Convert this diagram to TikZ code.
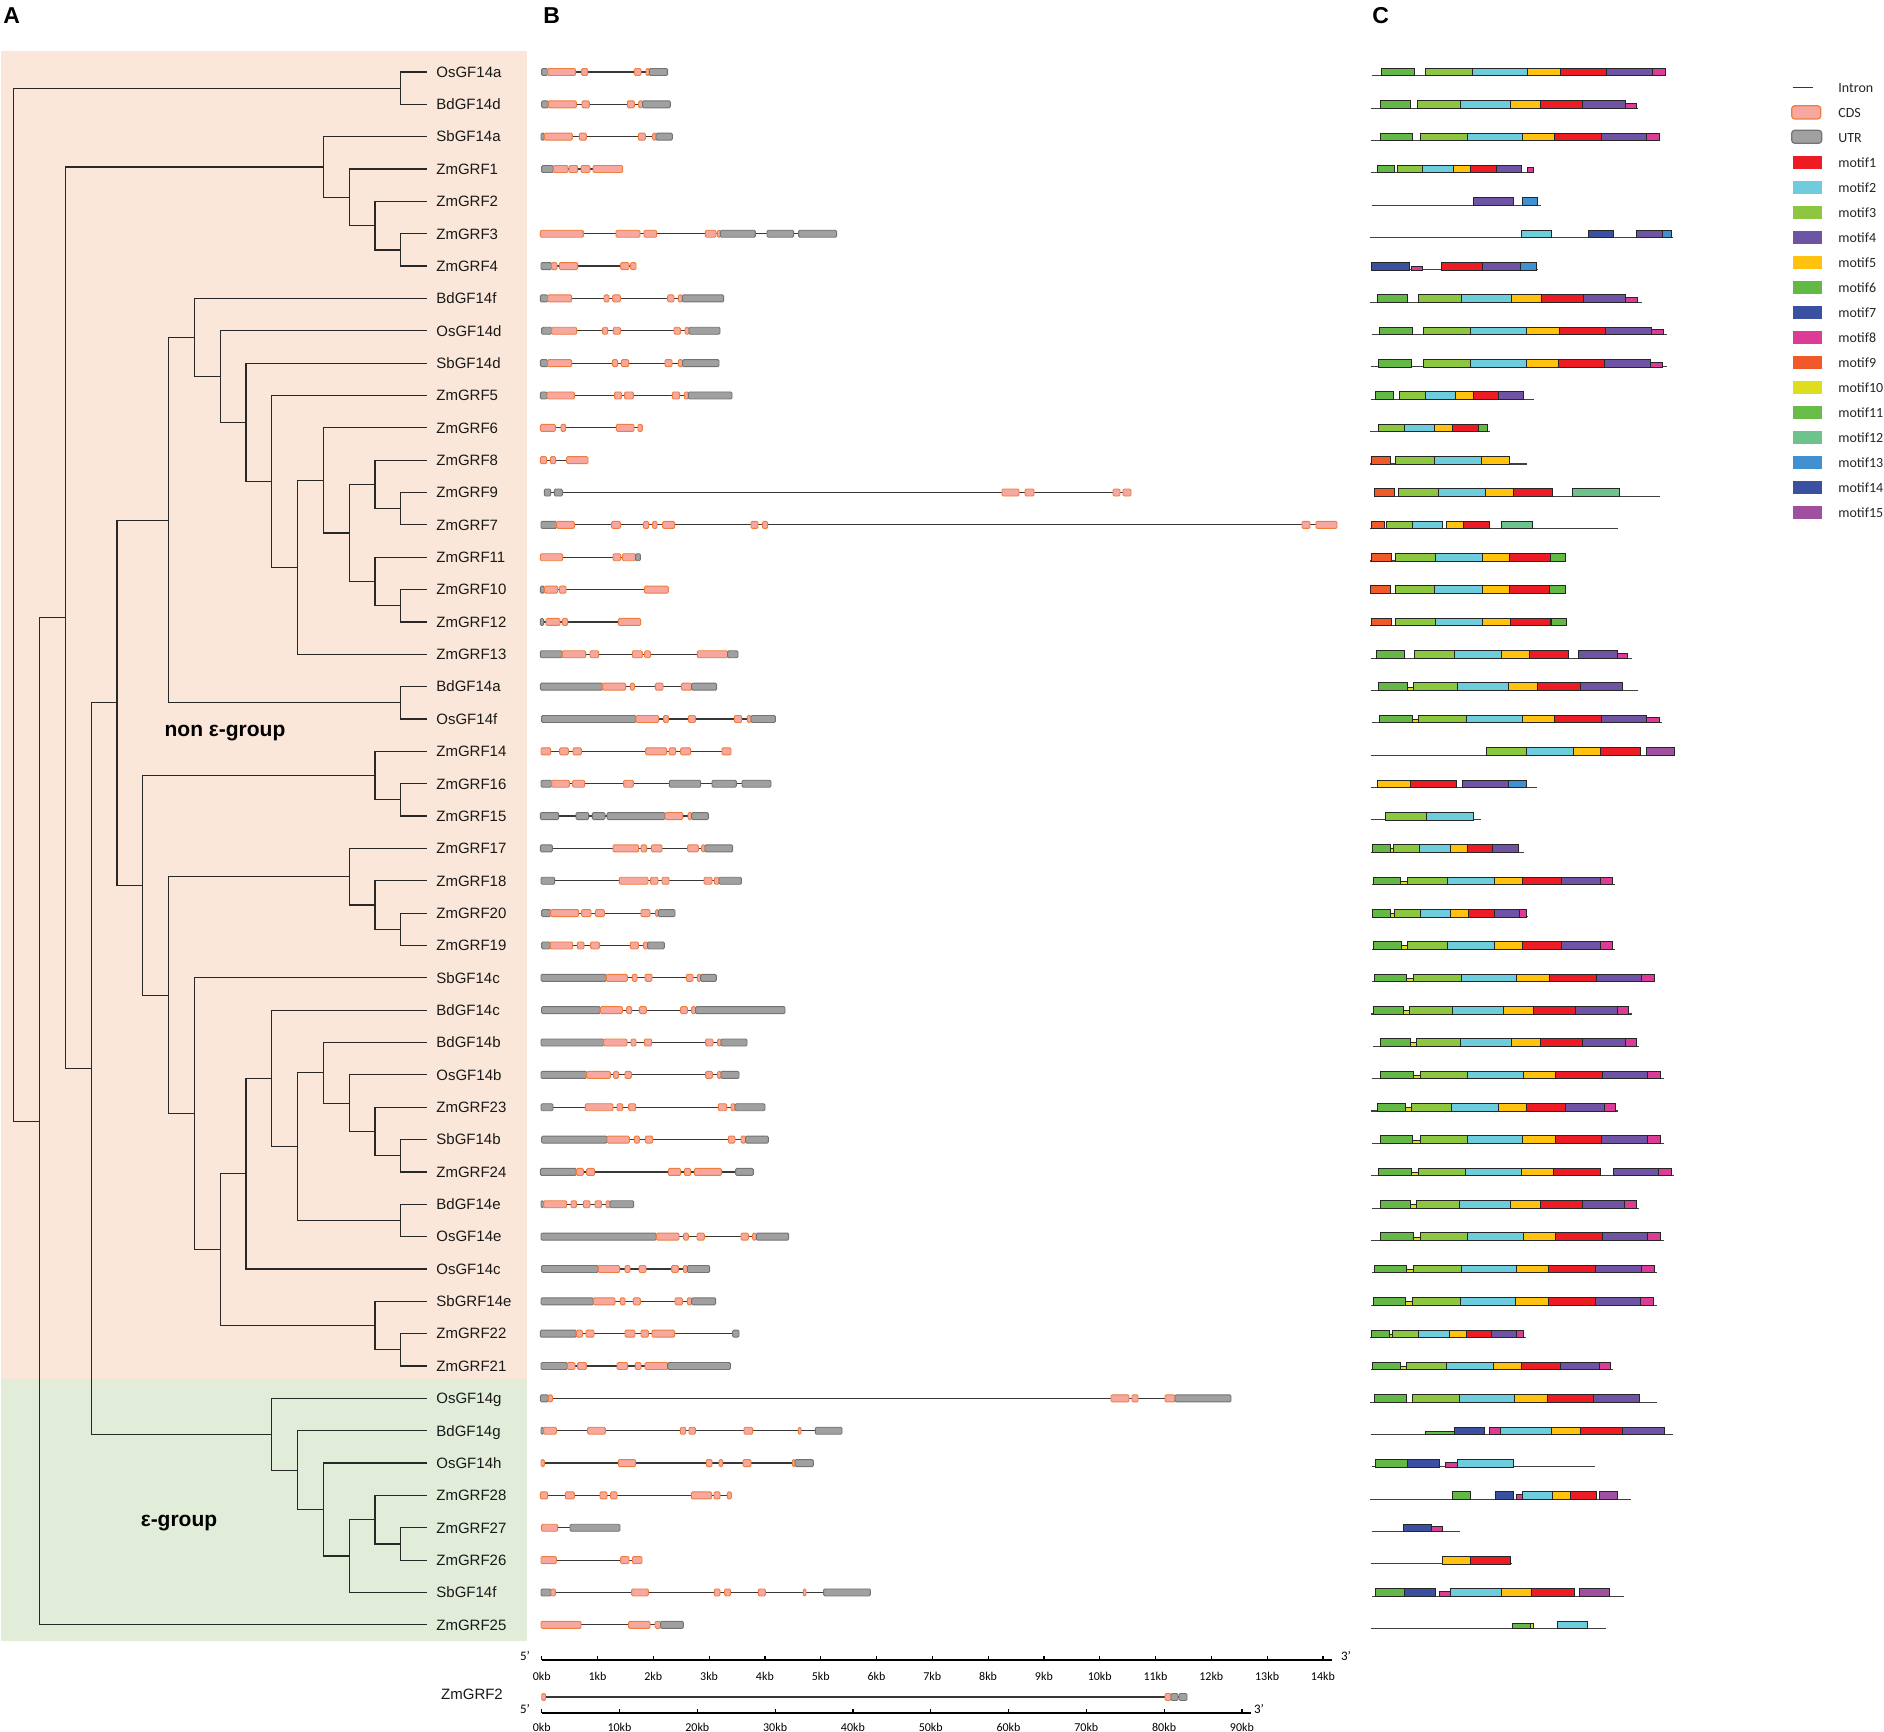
\documentclass[tikz,border=0pt]{standalone}
\usepackage{fontspec}
\setmainfont{Liberation Sans}
\newfontfamily\calfont{Carlito}
\usetikzlibrary{calc}
\definecolor{peach}{RGB}{251,231,217}
\definecolor{pgreen}{RGB}{226,237,217}
\definecolor{treec}{RGB}{40,40,40}
\definecolor{cdsf}{RGB}{246,168,160}
\definecolor{cdso}{RGB}{240,125,60}
\definecolor{utrf}{RGB}{160,160,160}
\definecolor{utro}{RGB}{115,115,115}
\definecolor{intronc}{RGB}{55,55,55}
\definecolor{m1}{RGB}{237,28,36}
\definecolor{m2}{RGB}{110,205,220}
\definecolor{m3}{RGB}{141,198,63}
\definecolor{m4}{RGB}{111,84,165}
\definecolor{m5}{RGB}{255,194,14}
\definecolor{m6}{RGB}{100,185,70}
\definecolor{m7}{RGB}{58,80,160}
\definecolor{m8}{RGB}{220,60,150}
\definecolor{m9}{RGB}{240,90,40}
\definecolor{m10}{RGB}{222,222,30}
\definecolor{m11}{RGB}{104,189,72}
\definecolor{m12}{RGB}{110,195,140}
\definecolor{m13}{RGB}{65,145,210}
\definecolor{m14}{RGB}{58,80,160}
\definecolor{m15}{RGB}{160,80,160}
\tikzset{
  br/.style={line width=0.6pt, draw=treec},
  lab/.style={anchor=base west, inner sep=0pt, text=black!90, font=\fontsize{7.5}{9}\selectfont},
  intr/.style={line width=0.6pt, draw=intronc},
  C/.style={fill=cdsf, draw=cdso, line width=0.45pt, rounded corners=0.6pt},
  U/.style={fill=utrf, draw=utro, line width=0.45pt, rounded corners=0.6pt},
  mot/.style={draw=black!85, line width=0.35pt},
  baseln/.style={draw=black!75, line width=0.55pt},
  axisln/.style={draw=black, line width=0.6pt},
  kbl/.style={inner sep=0pt, font=\calfont\fontsize{6}{7}\selectfont},
  leg/.style={anchor=west, inner sep=0pt, text=black!85, font=\calfont\fontsize{7}{8}\selectfont},
  grp/.style={inner sep=0pt, font=\bfseries\fontsize{10.5}{12}\selectfont},
  panel/.style={anchor=west, inner sep=0pt, font=\bfseries\fontsize{11.5}{13}\selectfont}
}
\newcommand\lf[2]{%
  \coordinate (#2) at (426.6,{72+32.35*#1});
  \node[lab] (t#2) at (436,{77.3+32.35*#1}) {#2};}
\newcommand\nd[4]{%
  \coordinate (tmp) at ($(#3)!0.5!(#4)$);
  \coordinate (#1) at ({13.8+25.8*#2},0 |- tmp);
  \draw[br] (#1) |- (#3);
  \draw[br] (#1) |- (#4);}
\newcommand\gn[4]{%
  \pgfmathsetmacro\gy{72+32.35*#1}
  \draw[intr] (#2,\gy) -- (#3,\gy);
  \foreach \ty/\xa/\xb in {#4}{%
    \ifnum\ty=1 \draw[C] (\xa,\gy-3.5) rectangle (\xb,\gy+3.5);
    \else \draw[U] (\xa,\gy-3.5) rectangle (\xb,\gy+3.5);\fi}}
\newcommand\mt[4]{%
  \pgfmathsetmacro\gb{72+32.35*#1+3.8}
  \draw[baseln] (#2,\gb) -- (#3,\gb);
  \foreach \mm/\xa/\xb/\hh in {#4}{%
    \draw[mot, fill=m\mm] (\xa,\gb-\hh) rectangle (\xb,\gb);}}
\begin{document}
\begin{tikzpicture}[x=0.5pt,y=-0.5pt]
\useasboundingbox (0,0) rectangle (1884,1732);
\fill[white] (0,0) rectangle (1884,1732);
% panel A background
\fill[peach] (1,51) rectangle (527,1379);
\fill[pgreen] (1,1379) rectangle (527,1641);
\node[panel] (pA) at (3,16) {A};
\node[panel] (pB) at (543,16) {B};
\node[panel] (pC) at (1372,16) {C};
\node[grp] (g1) at (225,733) {non ε-group};
\node[grp] (g2) at (179,1523) {ε-group};
% leaves
\lf{0}{OsGF14a} \lf{1}{BdGF14d} \lf{2}{SbGF14a} \lf{3}{ZmGRF1} \lf{4}{ZmGRF2}
\lf{5}{ZmGRF3} \lf{6}{ZmGRF4} \lf{7}{BdGF14f} \lf{8}{OsGF14d} \lf{9}{SbGF14d}
\lf{10}{ZmGRF5} \lf{11}{ZmGRF6} \lf{12}{ZmGRF8} \lf{13}{ZmGRF9} \lf{14}{ZmGRF7}
\lf{15}{ZmGRF11} \lf{16}{ZmGRF10} \lf{17}{ZmGRF12} \lf{18}{ZmGRF13} \lf{19}{BdGF14a}
\lf{20}{OsGF14f} \lf{21}{ZmGRF14} \lf{22}{ZmGRF16} \lf{23}{ZmGRF15} \lf{24}{ZmGRF17}
\lf{25}{ZmGRF18} \lf{26}{ZmGRF20} \lf{27}{ZmGRF19} \lf{28}{SbGF14c} \lf{29}{BdGF14c}
\lf{30}{BdGF14b} \lf{31}{OsGF14b} \lf{32}{ZmGRF23} \lf{33}{SbGF14b} \lf{34}{ZmGRF24}
\lf{35}{BdGF14e} \lf{36}{OsGF14e} \lf{37}{OsGF14c} \lf{38}{SbGRF14e} \lf{39}{ZmGRF22}
\lf{40}{ZmGRF21} \lf{41}{OsGF14g} \lf{42}{BdGF14g} \lf{43}{OsGF14h} \lf{44}{ZmGRF28}
\lf{45}{ZmGRF27} \lf{46}{ZmGRF26} \lf{47}{SbGF14f} \lf{48}{ZmGRF25}
% internal nodes
\nd{na}{15}{OsGF14a}{BdGF14d}
\nd{b1}{15}{ZmGRF3}{ZmGRF4}
\nd{b2}{14}{ZmGRF2}{b1}
\nd{b3}{13}{ZmGRF1}{b2}
\nd{b4}{12}{SbGF14a}{b3}
\nd{c1}{15}{ZmGRF9}{ZmGRF7}
\nd{c2}{14}{ZmGRF8}{c1}
\nd{c3}{15}{ZmGRF10}{ZmGRF12}
\nd{c4}{14}{ZmGRF11}{c3}
\nd{c5}{13}{c2}{c4}
\nd{c6}{12}{ZmGRF6}{c5}
\nd{c7}{11}{c6}{ZmGRF13}
\nd{c8}{10}{ZmGRF5}{c7}
\nd{c9}{9}{SbGF14d}{c8}
\nd{c10}{8}{OsGF14d}{c9}
\nd{c11}{7}{BdGF14f}{c10}
\nd{c12}{15}{BdGF14a}{OsGF14f}
\nd{c13}{6}{c11}{c12}
\nd{d1}{15}{ZmGRF16}{ZmGRF15}
\nd{d2}{14}{ZmGRF14}{d1}
\nd{d3}{15}{ZmGRF20}{ZmGRF19}
\nd{d4}{14}{ZmGRF18}{d3}
\nd{d5}{13}{ZmGRF17}{d4}
\nd{e1}{15}{SbGF14b}{ZmGRF24}
\nd{e2}{14}{ZmGRF23}{e1}
\nd{e3}{13}{OsGF14b}{e2}
\nd{e4}{12}{BdGF14b}{e3}
\nd{e5}{15}{BdGF14e}{OsGF14e}
\nd{e6}{11}{e4}{e5}
\nd{e7}{10}{BdGF14c}{e6}
\nd{e8}{9}{e7}{OsGF14c}
\nd{e9}{15}{ZmGRF22}{ZmGRF21}
\nd{e10}{14}{SbGRF14e}{e9}
\nd{e11}{8}{e8}{e10}
\nd{e12}{7}{SbGF14c}{e11}
\nd{e13}{6}{d5}{e12}
\nd{e14}{5}{d2}{e13}
\nd{f1}{4}{c13}{e14}
\nd{g1}{15}{ZmGRF27}{ZmGRF26}
\nd{g2}{14}{ZmGRF28}{g1}
\nd{g3}{13}{g2}{SbGF14f}
\nd{g4}{12}{OsGF14h}{g3}
\nd{g5}{11}{BdGF14g}{g4}
\nd{g6}{10}{OsGF14g}{g5}
\nd{h1}{3}{f1}{g6}
\nd{h2}{2}{b4}{h1}
\nd{h3}{1}{h2}{ZmGRF25}
\nd{root}{0}{na}{h3}
% panel B
\begin{scope}[shift={(535,0)},xscale=0.333333]
\gn{0}{20}{398}{2/20/38,1/38/122,1/140/158,1/298/318,1/333/343,2/343/398}
\gn{1}{20}{406}{2/20/40,1/40/124,1/141/163,1/277/298,1/311/323,2/323/406}
\gn{2}{18}{412}{2/18/28,1/28/112,1/133/154,1/310/331,1/353/363,2/363/412}
\gn{3}{20}{263}{2/20/55,1/55/99,1/102/128,1/138/165,1/174/263}
\gn{5}{16}{905}{1/16/145,1/243/315,1/327/365,1/511/543,1/547/556,2/556/661,2/696/776,2/791/905}
\gn{6}{18}{303}{2/18/50,1/50/66,1/73/128,1/257/282,1/287/303}
\gn{7}{16}{566}{2/16/38,1/38/110,1/207/222,1/233/256,1/398/417,1/430/442,2/442/566}
\gn{8}{20}{555}{2/20/50,1/50/125,1/203/218,1/235/256,1/417/436,1/450/462,2/462/555}
\gn{9}{16}{552}{2/16/38,1/38/110,1/232/248,1/259/281,1/390/411,1/430/443,2/443/552}
\gn{10}{16}{591}{2/16/36,1/36/118,1/239/259,1/269/295,1/412/434,1/448/460,2/460/591}
\gn{11}{16}{322}{1/16/61,1/78/92,1/244/297,1/309/322}
\gn{12}{16}{159}{1/16/35,1/46/62,1/95/159}
\gn{13}{28}{1788}{2/28/47,2/58/82,1/1401/1452,1/1470/1497,1/1734/1755,1/1764/1788}
\gn{14}{18}{2406}{2/18/65,1/65/118,1/230/256,1/325/341,1/353/366,1/383/419,1/648/669,1/682/698,1/2301/2325,1/2343/2406}
\gn{15}{16}{316}{1/16/83,1/234/257,1/262/302,2/302/316}
\gn{16}{16}{400}{2/16/28,1/28/68,1/73/93,1/328/400}
\gn{17}{16}{317}{2/16/26,1/33/75,1/82/98,1/250/317}
\gn{18}{16}{609}{2/16/82,1/82/152,1/165/191,1/292/322,1/329/346,1/487/578,2/578/609}
\gn{19}{16}{545}{2/16/203,1/203/272,1/286/298,1/361/384,1/439/470,2/470/545}
\gn{20}{20}{721}{2/20/303,1/303/371,1/386/400,1/460/481,1/598/620,1/637/648,2/648/721}
\gn{21}{18}{588}{1/18/47,1/74/100,1/114/139,1/332/395,1/402/422,1/437/467,1/561/588}
\gn{22}{18}{708}{2/18/50,1/50/103,1/113/149,1/266/295,2/403/497,2/531/604,2/621/708}
\gn{23}{16}{520}{2/16/71,2/123/161,2/172/210,2/216/390,1/390/443,1/459/470,2/470/520}
\gn{24}{16}{593}{2/16/52,1/234/311,1/318/335,1/349/381,1/458/490,1/500/510,2/510/593}
\gn{25}{18}{619}{2/18/59,1/253/339,1/347/369,1/381/402,1/507/531,1/538/552,2/552/619}
\gn{26}{20}{420}{2/20/47,1/47/131,1/140/168,1/181/208,1/318/345,1/362/370,2/370/420}
\gn{27}{20}{388}{2/20/46,1/46/113,1/127/147,1/167/193,1/286/310,1/326/338,2/338/388}
\gn{28}{18}{544}{2/18/214,1/214/277,1/292/306,1/330/351,1/454/474,1/487/497,2/497/544}
\gn{29}{20}{750}{2/20/196,1/196/262,1/275/290,1/313/334,1/437/457,1/470/482,2/482/750}
\gn{30}{18}{636}{2/18/206,1/206/276,1/288/303,1/328/350,1/512/534,1/548/558,2/558/636}
\gn{31}{18}{612}{2/18/155,1/155/226,1/236/250,1/270/289,1/512/532,1/548/558,2/558/612}
\gn{32}{18}{690}{2/18/54,1/151/234,1/246/263,1/281/302,1/550/575,1/588/600,2/600/690}
\gn{33}{20}{700}{2/20/216,1/216/283,1/298/313,1/331/353,1/580/600,1/618/632,2/632/700}
\gn{34}{16}{655}{2/16/124,1/124/145,1/155/179,1/400/437,1/448/467,1/478/559,2/602/655}
\gn{35}{18}{296}{2/18/26,1/26/95,1/108/124,1/145/165,1/180/199,1/213/225,2/225/296}
\gn{36}{18}{761}{2/18/364,1/364/432,1/446/460,1/486/508,1/618/640,1/653/664,2/664/761}
\gn{37}{20}{524}{2/20/190,1/190/254,1/270/285,1/312/333,1/410/430,1/445/457,2/457/524}
\gn{38}{18}{542}{2/18/175,1/175/240,1/256/270,1/295/316,1/420/442,1/457/470,2/470/542}
\gn{39}{16}{612}{2/16/124,1/124/142,1/153/177,1/270/300,1/318/340,1/351/419,2/593/612}
\gn{40}{18}{586}{2/18/97,1/97/120,1/128/154,1/246/278,1/301/318,1/330/398,2/398/586}
\gn{41}{16}{2088}{2/16/40,1/40/52,1/1728/1782,1/1791/1809,1/1890/1920,2/1920/2088}
\gn{42}{18}{921}{2/18/26,1/26/64,1/158/211,1/436/452,1/462/481,1/627/653,1/790/798,2/841/921}
\gn{43}{18}{835}{1/18/28,1/250/302,1/514/531,1/552/563,1/624/648,1/772/780,2/780/835}
\gn{44}{16}{589}{1/16/38,1/91/118,1/195/216,1/227/246,1/469/530,1/537/555,1/577/589}
\gn{45}{20}{255}{1/20/68,2/105/255}
\gn{46}{18}{321}{1/18/64,1/257/282,1/292/321}
\gn{47}{18}{1006}{2/18/48,1/48/61,1/290/340,1/538/555,1/569/586,1/670/691,1/805/813,2/866/1006}
\gn{48}{18}{445}{1/18/138,1/281/345,1/360/377,2/377/445}
\end{scope}
% scale bars
\draw[axisln] (541.7,1660) -- (1332,1660);
\foreach \k in {0,...,14}{
  \draw[axisln] ({541.7+55.8*\k},1660) -- ++(0,-4);
  \node[kbl] (ka\k) at ({541.7+55.8*\k},1676) {\k kb};}
\node[kbl] (a5) at (525,1656) {\fontsize{6.5}{7}\selectfont 5’};
\node[kbl] (a3) at (1346,1656) {\fontsize{6.5}{7}\selectfont 3’};
\node[lab, anchor=base] (zm2lab) at (472,1699.3) {ZmGRF2};
\draw[intr] (541.7,1697) -- (1187,1697);
\draw[C] (541.7,1693.5) rectangle (545.5,1700.5);
\draw[C] (1165,1693.5) rectangle (1171,1700.5);
\draw[U] (1171,1693.5) rectangle (1178,1700.5);
\draw[U] (1179,1693.5) rectangle (1187,1700.5);
\draw[axisln] (541.7,1713) -- (1251,1713);
\foreach \k in {0,10,...,90}{
  \draw[axisln] ({541.7+7.78*\k},1713) -- ++(0,-4);
  \node[kbl] (kb\k) at ({541.7+7.78*\k},1727) {\k kb};}
\node[kbl] (b5) at (525,1709) {\fontsize{6.5}{7}\selectfont 5’};
\node[kbl] (b3) at (1259,1709) {\fontsize{6.5}{7}\selectfont 3’};
% panel C
\begin{scope}[shift={(1360,0)},xscale=0.333333]
\mt{0}{35}{915}{6/65/163/7.6,3/196/336/7.6,2/336/502/7.6,5/502/600/7.6,1/600/740/7.6,4/740/877/7.6,8/877/915/7.6}
\mt{1}{33}{835}{6/62/151/7.6,3/172/300/7.6,2/300/452/7.6,5/452/541/7.6,1/541/668/7.6,4/668/795/7.6,8/795/830/5}
\mt{2}{32}{900}{6/60/158/7.6,3/180/321/7.6,2/321/488/7.6,5/488/584/7.6,1/584/725/7.6,4/725/860/7.6,8/860/898/7.6}
\mt{3}{32}{522}{6/52/104/7.6,3/112/188/7.6,2/188/280/7.6,5/280/332/7.6,1/332/409/7.6,4/409/483/7.6,8/502/520/5}
\mt{4}{35}{542}{4/340/459/7.6,13/488/532/7.6}
\mt{5}{30}{940}{2/483/575/7.6,7/685/761/7.6,4/829/906/7.6,13/906/934/7.6}
\mt{6}{33}{533}{7/33/149/7.6,8/155/187/3.5,1/245/366/7.6,4/366/482/7.6,13/482/528/7.6}
\mt{7}{30}{845}{6/52/142/7.6,3/174/304/7.6,2/304/455/7.6,5/455/543/7.6,1/543/671/7.6,4/671/797/7.6,8/797/831/5}
\mt{8}{35}{922}{6/58/157/7.6,3/191/332/7.6,2/332/500/7.6,5/500/597/7.6,1/597/737/7.6,4/737/875/7.6,8/875/911/5}
\mt{9}{32}{922}{6/56/155/7.6,3/190/331/7.6,2/331/498/7.6,5/498/595/7.6,1/595/734/7.6,4/734/872/7.6,8/872/908/5}
\mt{10}{32}{522}{6/46/99/7.6,3/118/196/7.6,2/196/286/7.6,5/286/339/7.6,1/339/415/7.6,4/415/490/7.6}
\mt{11}{30}{390}{3/56/133/7.6,2/133/223/7.6,5/223/277/7.6,1/277/355/7.6,6/355/383/7.6}
\mt{12}{30}{500}{9/33/92/7.6,3/106/224/7.6,2/224/365/7.6,5/365/447/7.6}
\mt{13}{42}{900}{9/42/103/7.6,3/116/236/7.6,2/236/377/7.6,5/377/459/7.6,1/459/578/7.6,12/636/779/7.6}
\mt{14}{30}{775}{9/33/72/7.6,3/80/157/7.6,2/157/247/7.6,5/258/311/7.6,1/311/387/7.6,12/425/516/7.6}
\mt{15}{30}{618}{9/33/93/7.6,3/106/225/7.6,2/225/366/7.6,5/366/448/7.6,1/448/570/7.6,6/572/617/7.6}
\mt{16}{30}{618}{9/32/92/7.6,3/105/224/7.6,2/224/366/7.6,5/366/448/7.6,1/448/567/7.6,6/567/616/7.6}
\mt{17}{30}{620}{9/33/95/7.6,3/107/226/7.6,2/226/368/7.6,5/368/450/7.6,1/450/570/7.6,6/574/618/7.6}
\mt{18}{32}{815}{6/50/134/7.6,3/164/283/7.6,2/283/424/7.6,5/424/508/7.6,1/508/626/7.6,4/655/771/7.6,8/771/803/5}
\mt{19}{32}{835}{6/54/142/7.6,10/143/161/3.5,3/161/292/7.6,2/292/444/7.6,5/444/533/7.6,1/533/660/7.6,4/660/786/7.6}
\mt{20}{35}{905}{6/58/156/7.6,10/156/176/3.5,3/176/320/7.6,2/320/487/7.6,5/487/583/7.6,1/583/723/7.6,4/723/860/7.6,8/860/898/5}
\mt{21}{32}{945}{3/378/498/7.6,2/498/640/7.6,5/640/722/7.6,1/722/842/7.6,15/858/942/7.6}
\mt{22}{32}{532}{5/52/150/7.6,1/150/290/7.6,4/306/444/7.6,13/444/498/7.6}
\mt{23}{32}{363}{3/77/198/7.6,2/198/340/7.6}
\mt{24}{32}{493}{6/36/90/7.6,10/90/100/3.5,3/100/178/7.6,2/178/270/7.6,5/270/321/7.6,1/321/398/7.6,4/398/474/7.6}
\mt{25}{35}{765}{6/40/121/7.6,10/121/141/3.5,3/141/262/7.6,2/262/404/7.6,5/404/486/7.6,1/486/604/7.6,4/604/722/7.6,8/722/756/7.6}
\mt{26}{37}{505}{6/37/92/7.6,10/92/104/3.5,3/104/182/7.6,2/182/272/7.6,5/272/325/7.6,1/325/402/7.6,4/402/477/7.6,8/477/498/7.6}
\mt{27}{35}{765}{6/40/123/7.6,10/123/142/3.5,3/142/262/7.6,2/262/404/7.6,5/404/486/7.6,1/486/605/7.6,4/605/722/7.6,8/722/756/7.6}
\mt{28}{35}{885}{6/42/139/7.6,10/139/161/3.5,3/161/303/7.6,2/303/470/7.6,5/470/567/7.6,1/567/708/7.6,4/708/845/7.6,8/845/882/7.6}
\mt{29}{33}{817}{6/40/129/7.6,10/129/148/3.5,3/148/278/7.6,2/278/431/7.6,5/431/519/7.6,1/519/647/7.6,4/647/773/7.6,8/773/806/7.6}
\mt{30}{38}{838}{6/61/151/7.6,10/151/170/3.5,3/170/300/7.6,2/300/453/7.6,5/453/541/7.6,1/541/668/7.6,4/668/795/7.6,8/795/829/7.6}
\mt{31}{35}{912}{6/62/160/7.6,10/160/182/3.5,3/182/323/7.6,2/323/489/7.6,5/489/587/7.6,1/587/727/7.6,4/727/863/7.6,8/863/902/7.6}
\mt{32}{33}{775}{6/53/136/7.6,10/136/154/3.5,3/154/275/7.6,2/275/416/7.6,5/416/498/7.6,1/498/617/7.6,4/617/734/7.6,8/734/765/7.6}
\mt{33}{36}{912}{6/60/158/7.6,10/158/180/3.5,3/180/321/7.6,2/321/488/7.6,5/488/585/7.6,1/585/725/7.6,4/725/862/7.6,8/862/900/7.6}
\mt{34}{33}{943}{6/56/154/7.6,10/154/176/3.5,3/176/317/7.6,2/317/484/7.6,5/484/581/7.6,1/581/721/7.6,4/759/895/7.6,8/895/933/7.6}
\mt{35}{36}{836}{6/61/150/7.6,10/150/170/3.5,3/170/298/7.6,2/298/451/7.6,5/451/540/7.6,1/540/667/7.6,4/667/794/7.6,8/794/828/7.6}
\mt{36}{33}{912}{6/61/159/7.6,10/159/180/3.5,3/180/322/7.6,2/322/489/7.6,5/489/586/7.6,1/586/726/7.6,4/726/863/7.6,8/863/900/7.6}
\mt{37}{35}{892}{6/42/140/7.6,10/140/160/3.5,3/160/303/7.6,2/303/469/7.6,5/469/566/7.6,1/566/707/7.6,4/707/844/7.6,8/844/882/7.6}
\mt{38}{33}{890}{6/40/137/7.6,10/137/158/3.5,3/158/301/7.6,2/301/467/7.6,5/467/565/7.6,1/565/705/7.6,4/705/842/7.6,8/842/880/7.6}
\mt{39}{30}{497}{6/34/87/7.6,10/87/98/3.5,3/98/175/7.6,2/175/267/7.6,5/267/319/7.6,1/319/395/7.6,4/395/469/7.6,8/469/491/7.6}
\mt{40}{33}{758}{6/37/121/7.6,10/121/139/3.5,3/139/259/7.6,2/259/401/7.6,5/401/484/7.6,1/484/602/7.6,4/602/719/7.6,8/719/750/7.6}
\mt{41}{30}{892}{6/42/140/7.6,3/156/297/7.6,2/297/464/7.6,5/464/561/7.6,1/561/700/7.6,4/700/838/7.6}
\mt{42}{32}{940}{11/197/284/3,7/284/372/7.6,8/388/420/7.6,2/420/573/7.6,5/573/660/7.6,1/660/788/7.6,4/788/912/7.6}
\mt{43}{35}{705}{6/45/141/7.6,14/141/239/7.6,8/256/292/5,2/292/460/7.6}
\mt{44}{30}{813}{6/277/331/7.6,7/406/459/7.6,8/468/488/5,2/488/578/7.6,5/578/632/7.6,1/632/709/7.6,15/719/772/7.6}
\mt{45}{35}{300}{14/131/215/7.6,8/215/248/5}
\mt{46}{32}{455}{5/248/330/7.6,1/330/450/7.6}
\mt{47}{36}{793}{6/46/134/7.6,14/134/225/7.6,8/238/272/5,2/272/425/7.6,5/425/514/7.6,1/514/642/7.6,15/658/748/7.6}
\mt{48}{33}{737}{6/457/510/5,10/510/520/5,2/592/683/7.6}
\end{scope}
% legend
\draw[intr, line width=0.7pt] (1792.7,87.7) -- (1813.3,87.7);
\node[leg] (lIntron) at (1838,87.7) {Intron};
\draw[C, line width=0.6pt, rounded corners=1.5pt] (1791.7,105.7) rectangle (1820.7,119);
\node[leg] (lCDS) at (1838,112.7) {CDS};
\draw[U, line width=0.6pt, rounded corners=1.5pt] (1791.7,130.3) rectangle (1821.7,143.3);
\node[leg] (lUTR) at (1838,137.7) {UTR};
\foreach \k in {1,...,15}{
  \fill[m\k] (1792.7,{156+25*(\k-1)}) rectangle (1821.7,{169.3+25*(\k-1)});
  \node[leg] (lm\k) at (1838,{162.7+25*(\k-1)}) {motif\k};}
\end{tikzpicture}
\end{document}
